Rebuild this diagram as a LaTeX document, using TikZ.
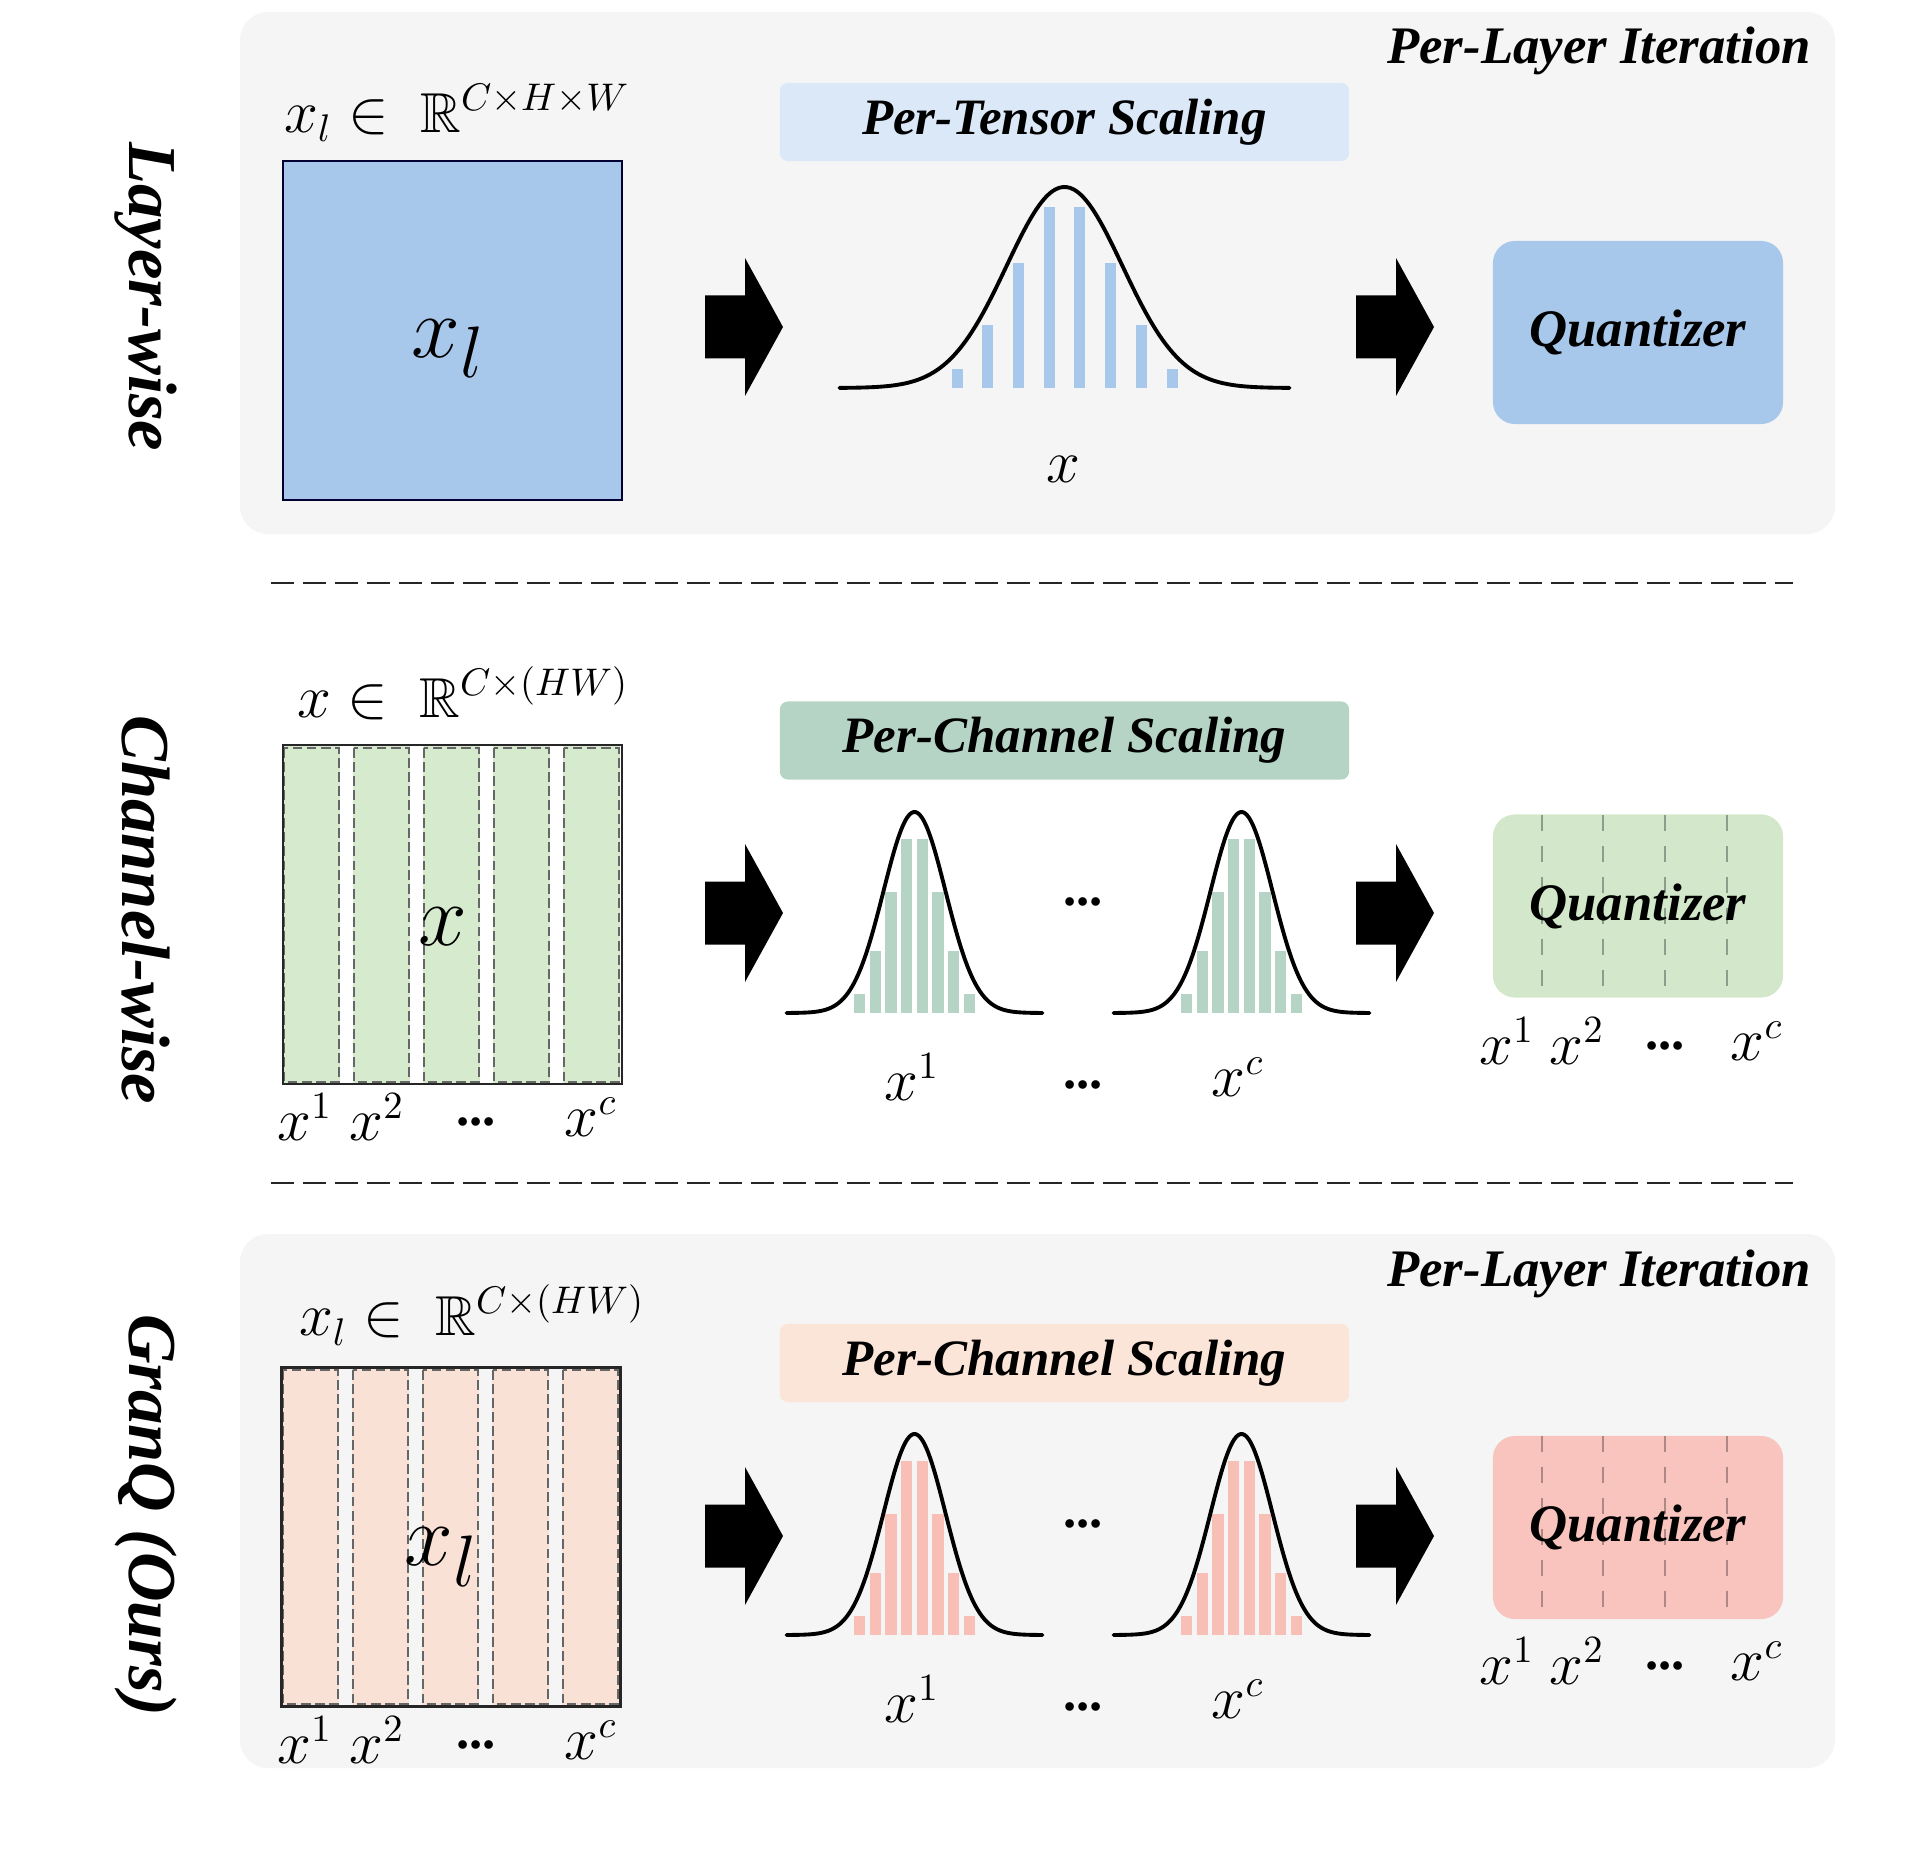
\documentclass[tikz,border=0pt]{standalone}
\usepackage{fontspec}
\setmainfont{Liberation Serif}
\usepackage{amsmath}
\usepackage{amssymb}
\usetikzlibrary{positioning}

\definecolor{panelgray}{HTML}{F5F5F5}
\definecolor{blueA}{HTML}{A7C8EA}
\definecolor{blueB}{HTML}{DBE8F7}
\definecolor{greenA}{HTML}{D6EACE}
\definecolor{greenB}{HTML}{B5D4C5}
\definecolor{greenQ}{HTML}{D3E8CA}
\definecolor{greenD}{HTML}{8C9E8A}
\definecolor{pinkA}{HTML}{F9E1D5}
\definecolor{pinkB}{HTML}{FBE4D8}
\definecolor{pinkC}{HTML}{F8BFB7}
\definecolor{pinkQ}{HTML}{F8C4BD}
\definecolor{pinkD}{HTML}{AE8884}

% bell curve: centre, base line, sigma, half range
\newcommand{\bellcurve}[4]{\draw[curve] plot[domain=-#4:#4, samples=120, smooth] ({#1+\x},{#2-201*exp(-0.5*(\x/#3)^2)});}
% histogram bars under a per-channel curve: centre, base line, colour
\newcommand{\chanbars}[3]{%
  \foreach \d/\h in {7.85/174,23.55/121,39.25/62,54.95/19}{
    \fill[#3] ({#1-\d-5.7},#2) rectangle ++(11.4,-\h);
    \fill[#3] ({#1+\d-5.7},#2) rectangle ++(11.4,-\h);}}
% channel stripes of a tensor: left, top, colour
\newcommand{\stripes}[3]{%
  \foreach \i in {0,...,4}{
    \fill[#3] ({#1+70*\i},#2) rectangle ++(57,338);
    \draw[coldash] ({#1+70*\i+1},{#2+2}) rectangle ++(55,334);}}

\begin{document}
\begin{tikzpicture}[x=0.01cm,y=-0.01cm,
    panel/.style={fill=panelgray, rounded corners=0.28cm},
    tensor/.style={draw=black!85, line width=0.75pt, minimum width=3.39cm, minimum height=3.39cm, inner sep=0pt},
    bigx/.style={font=\fontsize{31}{33}\selectfont, inner sep=0pt},
    header/.style={rounded corners=0.08cm, minimum width=5.69cm, minimum height=0.78cm, inner sep=0pt, font=\fontsize{14.5}{17}\selectfont\bfseries\itshape},
    quant/.style={rounded corners=0.22cm, minimum width=2.9cm, minimum height=1.83cm, inner sep=0pt},
    qtext/.style={font=\fontsize{15}{18}\selectfont\bfseries\itshape},
    side/.style={rotate=-90, font=\fontsize{19.5}{24}\selectfont\bfseries\itshape},
    iter/.style={font=\fontsize{15}{18}\selectfont\bfseries\itshape},
    lbl/.style={font=\fontsize{16}{19}\selectfont, inner sep=0pt},
    dots/.style={font=\fontsize{15}{18}\selectfont\bfseries, inner sep=0pt},
    curve/.style={line width=1.1pt, line cap=round},
    coldash/.style={draw=black!60, line width=0.35pt, dash pattern=on 2.8pt off 1.2pt},
    qdash/.style={line width=0.6pt, dash pattern=on 4.5pt off 4.3pt},
    sep/.style={draw=black!85, line width=0.75pt, dash pattern=on 6.5pt off 2.6pt},
    fatarrow/.pic={\fill (-39,-31.5) -- (1,-31.5) -- (1,-69) -- (39,0) -- (1,69) -- (1,31.5) -- (-39,31.5) -- cycle;}
  ]

  \fill[white] (0,0) rectangle (1912,1864);
  \useasboundingbox (0,0) rectangle (1912,1864);

  %% layer-wise
  \fill[panel] (240,12) rectangle (1835,534);
  \node[side] (lw) at (146,297) {Layer-wise};
  \node[iter] (it1) at (1599,51) {Per-Layer Iteration};
  \node[tensor, fill=blueA, draw=black!80!blue] (t1) at (452.5,330.5) {};
  \node[bigx] at ([xshift=-0.04cm,yshift=-0.18cm]t1.center) {$x_l$};
  \node[lbl] (t1lab) at (457,113) {$x_l\in\ \mathbb{R}^{C\times H\times W}$};
  \node[header, fill=blueB] (h1) at (1064.5,122) {Per-Tensor Scaling};
  \pic at (744,327) {fatarrow};
  \foreach \d/\h in {15.4/181,46.1/125,76.8/63,107.5/19}{
    \fill[blueA] ({1064.5-\d-5.5},388) rectangle ++(11,-\h);
    \fill[blueA] ({1064.5+\d-5.5},388) rectangle ++(11,-\h);}
  \bellcurve{1064.5}{388}{58}{225}
  \node[lbl] (g1lab) at (1063,469) {$x$};
  \pic at (1395,327) {fatarrow};
  \node[quant, fill=blueA] (q1) at (1638,332.5) {};
  \node[qtext] at (q1) {Quantizer};

  \draw[sep] (271,583) -- (1793,583);

  %% channel-wise
  \node[side] (cw) at (146,910) {Channel-wise};
  \stripes{283}{746}{greenA}
  \node[tensor] (t2) at (452.5,914.5) {};
  \node[bigx] at ([xshift=-0.1cm,yshift=-0.12cm]t2.center) {$x$};
  \node[lbl] (t2lab) at (463,693) {$x\in\ \mathbb{R}^{C\times(HW)}$};
  \node[lbl] at (305,1117) {$x^1$};
  \node[lbl] at (377,1117) {$x^2$};
  \node[dots] at (476,1122) {...};
  \node[lbl] at (591,1117) {$x^c$};
  \node[header, fill=greenB] (h2) at (1064.5,740.5) {Per-Channel Scaling};
  \pic at (744,913) {fatarrow};
  \chanbars{914.5}{1013}{greenB}
  \bellcurve{914.5}{1013}{31}{128}
  \chanbars{1241.5}{1013}{greenB}
  \bellcurve{1241.5}{1013}{31}{128}
  \node[dots] at (1083,902) {...};
  \node[lbl] at (912,1077) {$x^1$};
  \node[dots] at (1083,1085) {...};
  \node[lbl] at (1238,1077) {$x^c$};
  \pic at (1395,913) {fatarrow};
  \node[quant, fill=greenQ] (q2) at (1638,906) {};
  \foreach \xx in {1542,1603,1665,1727}
    \draw[qdash, greenD] (\xx,815) -- (\xx,997);
  \node[qtext] at (q2) {Quantizer};
  \node[lbl] at (1507,1041) {$x^1$};
  \node[lbl] at (1577,1041) {$x^2$};
  \node[dots] at (1665,1046) {...};
  \node[lbl] at (1757,1041) {$x^c$};

  \draw[sep] (271,1183) -- (1793,1183);

  %% GranQ
  \fill[panel] (240,1234) rectangle (1835,1768);
  \node[side] (gq) at (146,1515) {GranQ (Ours)};
  \node[iter] (it2) at (1599,1274) {Per-Layer Iteration};
  \stripes{282}{1368}{pinkA}
  \node[tensor] (t3) at (451,1537) {};
  \node[bigx] at ([xshift=-0.1cm,yshift=-0.2cm]t3.center) {$x_l$};
  \node[lbl] (t3lab) at (472,1315) {$x_l\in\ \mathbb{R}^{C\times(HW)}$};
  \node[lbl] at (305,1740) {$x^1$};
  \node[lbl] at (377,1740) {$x^2$};
  \node[dots] at (476,1745) {...};
  \node[lbl] at (591,1740) {$x^c$};
  \node[header, fill=pinkB] (h3) at (1064.5,1363) {Per-Channel Scaling};
  \pic at (744,1536) {fatarrow};
  \chanbars{914.5}{1635}{pinkC}
  \bellcurve{914.5}{1635}{31}{128}
  \chanbars{1241.5}{1635}{pinkC}
  \bellcurve{1241.5}{1635}{31}{128}
  \node[dots] at (1083,1524) {...};
  \node[lbl] at (912,1699) {$x^1$};
  \node[dots] at (1083,1707) {...};
  \node[lbl] at (1238,1699) {$x^c$};
  \pic at (1395,1536) {fatarrow};
  \node[quant, fill=pinkQ] (q3) at (1638,1527.5) {};
  \foreach \xx in {1542,1603,1665,1727}
    \draw[qdash, pinkD] (\xx,1436) -- (\xx,1619);
  \node[qtext] at (q3) {Quantizer};
  \node[lbl] at (1507,1661) {$x^1$};
  \node[lbl] at (1577,1661) {$x^2$};
  \node[dots] at (1665,1666) {...};
  \node[lbl] at (1757,1661) {$x^c$};

\end{tikzpicture}
\end{document}
